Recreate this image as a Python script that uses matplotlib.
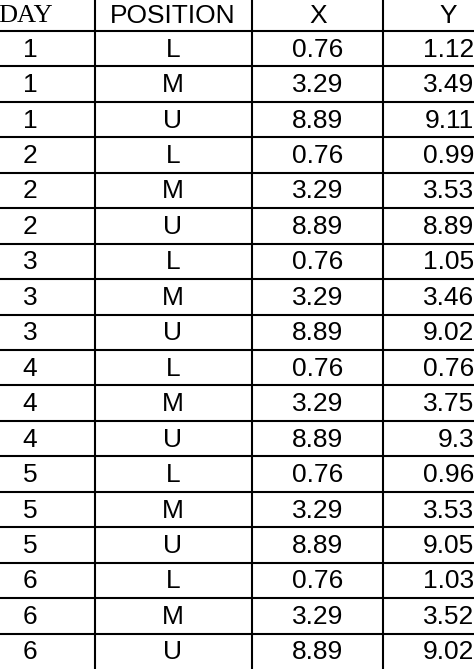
import matplotlib.pyplot as plt

days = [1, 1, 1, 2, 2, 2, 3, 3, 3, 4, 4, 4, 5, 5, 5, 6, 6, 6]
positions = ["L", "M", "U"] * 6
x_vals = ["0.76", "3.29", "8.89"] * 6
y_vals = ["1.12", "3.49", "9.11", "0.99", "3.53", "8.89", "1.05", "3.46", "9.02",
          "0.76", "3.75", "9.3", "0.96", "3.53", "9.05", "1.03", "3.52", "9.02"]

W, H = 474, 669
fig = plt.figure(figsize=(W / 100, H / 100), dpi=100)
ax = fig.add_axes([0, 0, 1, 1])
ax.set_xlim(0, W)
ax.set_ylim(H, 0)
ax.axis("off")

row_h = (H - 31) / 18
top = 31 - row_h
for k in range(18):
    ax.axhline(31 + row_h * k, color="black", lw=1.5)
for x in [95, 252, 383]:
    ax.axvline(x, color="black", lw=1.5)

fs = 19
sans = "Liberation Sans"
hy = top + row_h / 2 + 3
ax.text(-2, hy, "DAY", fontsize=fs, family="Liberation Serif", ha="left", va="center")
ax.text(173, hy, "POSITION", fontsize=fs, family=sans, ha="center", va="center")
ax.text(318, hy, "X", fontsize=fs, family=sans, ha="center", va="center")
ax.text(448, hy, "Y", fontsize=fs, family=sans, ha="center", va="center")

for i in range(18):
    cy = 31 + row_h * (i + 0.5) + 1
    ax.text(30, cy, str(days[i]), fontsize=fs, family=sans, ha="center", va="center")
    ax.text(173, cy, positions[i], fontsize=fs, family=sans, ha="center", va="center")
    ax.text(318, cy, x_vals[i], fontsize=fs, family=sans, ha="center", va="center")
    ax.text(474, cy, y_vals[i], fontsize=fs, family=sans, ha="right", va="center")

fig.savefig("out.png", dpi=100)
